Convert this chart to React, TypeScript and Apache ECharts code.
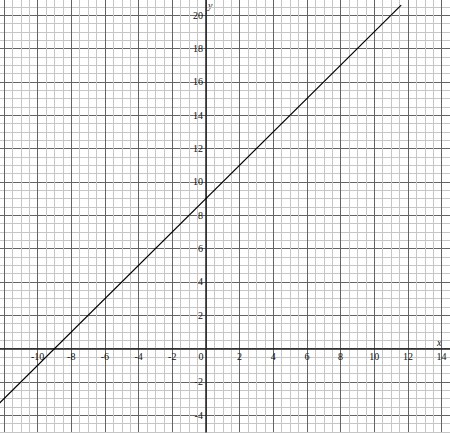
import * as echarts from 'echarts';
import { useEffect, useRef } from 'react';

// line y = x + 9, endpoints
const lineX = [-12.5, 11.6];
const lineY = [-3.5, 20.6];

const xRange = [-12.5, 14.5];
const yRange = [-5, 21];
const gridStep = 0.5;
// labelled ticks
const xLabelMin = -10;
const yLabelMin = -4;

const serif = '"Liberation Serif", "Times New Roman", serif';

const W = 450;
const H = 433;
const gridLeft = -4.5;
const gridTop = -1.5;
const gridBottom = 1;

export default function App() {
    const chartRef = useRef<HTMLDivElement>(null);

    useEffect(() => {
        if (!chartRef.current) return;

        const chart = echarts.init(chartRef.current, null, { renderer: 'svg' });

        const major = '#646464';
        const minor = '#c6c6c6';

        // the axes sit on the zero lines: shift them in from the grid edges
        const pxX = (W - gridLeft) / (xRange[1] - xRange[0]);
        const pxY = (H - gridTop - gridBottom) / (yRange[1] - yRange[0]);
        const xAxisOffset = -(0 - yRange[0]) * pxY;
        const yAxisOffset = -(0 - xRange[0]) * pxX;

        const option: any = {
            animation: false,
            backgroundColor: '#fff',
            grid: {
                left: gridLeft,
                right: 0,
                top: gridTop,
                bottom: gridBottom,
                containLabel: false,
                outerBoundsMode: 'none',
            },
            xAxis: {
                type: 'value',
                min: xRange[0],
                max: xRange[1],
                interval: gridStep,
                offset: xAxisOffset,
                axisLine: { onZero: false, lineStyle: { color: '#222', width: 1.5 } },
                axisTick: { show: false },
                axisLabel: {
                    margin: 3,
                    color: '#111',
                    fontFamily: serif,
                    fontSize: 10,
                    formatter: (v: number) => {
                        if (v === 0) return '{z|0}';
                        return v % 2 === 0 && v >= xLabelMin ? String(v) : '';
                    },
                    rich: {
                        z: { padding: [0, 10, 0, 0], fontFamily: serif, fontSize: 10, color: '#111' },
                    },
                },
                splitLine: {
                    show: true,
                    lineStyle: { color: [minor, major, minor, minor], width: 1 },
                },
            },
            yAxis: {
                type: 'value',
                min: yRange[0],
                max: yRange[1],
                interval: gridStep,
                offset: yAxisOffset,
                axisLine: { onZero: false, lineStyle: { color: '#222', width: 1.5 } },
                axisTick: { show: false },
                axisLabel: {
                    margin: 3,
                    color: '#111',
                    fontFamily: serif,
                    fontSize: 10,
                    formatter: (v: number) => (v % 2 === 0 && v !== 0 && v >= yLabelMin ? String(v) : ''),
                },
                splitLine: {
                    show: true,
                    lineStyle: { color: [minor, minor, major, minor], width: 1 },
                },
            },
            graphic: [
                {
                    type: 'text',
                    left: 437,
                    top: 337,
                    style: { text: 'x', font: `italic 10px ${serif}`, fill: '#111' },
                },
                {
                    type: 'text',
                    left: 208,
                    top: 0,
                    style: { text: 'y', font: `italic 10px ${serif}`, fill: '#111' },
                },
            ],
            series: [
                {
                    type: 'line',
                    data: lineX.map((x, i) => [x, lineY[i]]),
                    showSymbol: false,
                    lineStyle: { color: '#000', width: 1.2 },
                    z: 5,
                },
            ],
        };

        chart.setOption(option);

        return () => {
            chart.dispose();
        };
    }, []);

    return <div ref={chartRef} style={{ position: 'fixed', left: 0, top: 0, width: `${W}px`, height: `${H}px` }} />;
}
